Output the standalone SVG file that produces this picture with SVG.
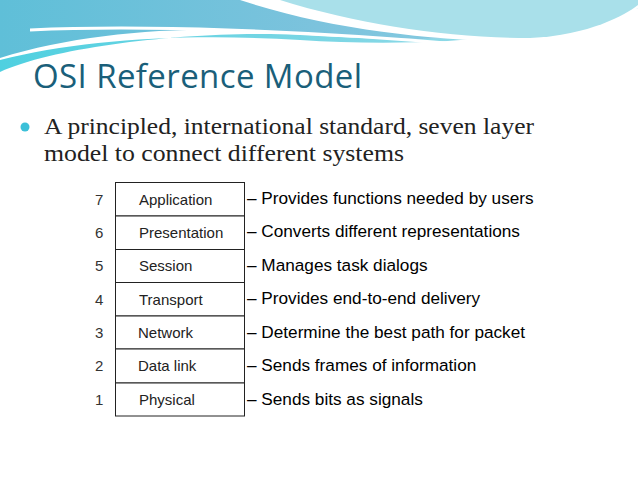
<svg xmlns="http://www.w3.org/2000/svg" width="638" height="478" viewBox="0 0 638 478">
<defs>
<linearGradient id="g1" x1="0" y1="0" x2="1" y2="0"><stop offset="0" stop-color="#5fbfd8"/><stop offset="0.5" stop-color="#7cc3dd"/><stop offset="1" stop-color="#8fd3e4"/></linearGradient>
<linearGradient id="g2" x1="0" y1="0" x2="1" y2="0"><stop offset="0" stop-color="#4fd0e0"/><stop offset="1" stop-color="#a6dce9"/></linearGradient>
</defs>
<style>
.num{font-family:"Liberation Sans",Arial,sans-serif;font-size:15px;fill:#333}
.lay{font-family:"Liberation Sans",Arial,sans-serif;font-size:15px;fill:#222}
.desc{font-family:"Liberation Sans",Arial,sans-serif;font-size:17.2px;fill:#000}
.cell{fill:#fff;stroke:#222;stroke-width:1}
</style>
<rect width="638" height="478" fill="#fff"/>
<g id="header">
<path d="M0 0 H638 V8 C560 40 420 45 300 33 C200 25 90 30 0 58 Z" fill="url(#g1)"/>
<path d="M0 72 C60 45 200 30 300 35 C400 40 500 48 638 5 V0 C560 40 420 48 300 40 C180 33 80 40 0 60 Z" fill="url(#g2)"/>
<path d="M240 0 C330 30 430 40 520 42 C580 40 620 20 638 8 V0 Z" fill="#fff"/>
<path d="M280 0 C360 25 450 38 530 38 C590 35 625 15 638 5 V0 Z" fill="#a9e0ea"/>
<path d="M30 30 C140 25 300 30 470 45" fill="none" stroke="#ffffff" stroke-width="3"/>
</g>
<text x="33" y="88" font-family="Open Sans,Liberation Sans,sans-serif" font-size="33" fill="#1a5f7a" textLength="329">OSI Reference Model</text>
<g id="bullet">
<circle cx="25" cy="127" r="4.5" fill="#3cc0d8"/>
<text x="44" y="134" font-family="Liberation Serif,serif" font-size="23" fill="#222" textLength="490" lengthAdjust="spacingAndGlyphs">A principled, international standard, seven layer</text>
<text x="44" y="161" font-family="Liberation Serif,serif" font-size="23" fill="#222" textLength="360" lengthAdjust="spacingAndGlyphs">model to connect different systems</text>
</g>
<g id="layers">
<rect class="cell" x="115.5" y="182.5" width="129" height="33.5"/>
<rect class="cell" x="115.5" y="216" width="129" height="33.5"/>
<rect class="cell" x="115.5" y="249.5" width="129" height="33"/>
<rect class="cell" x="115.5" y="282.5" width="129" height="33.5"/>
<rect class="cell" x="115.5" y="316" width="129" height="33"/>
<rect class="cell" x="115.5" y="349" width="129" height="34"/>
<rect class="cell" x="115.5" y="383" width="129" height="33"/>
<text class="num" x="95" y="205">7</text><text class="lay" x="139" y="205">Application</text>
<text class="num" x="95" y="238">6</text><text class="lay" x="139" y="238">Presentation</text>
<text class="num" x="95" y="271">5</text><text class="lay" x="139" y="271">Session</text>
<text class="num" x="95" y="305">4</text><text class="lay" x="139" y="305">Transport</text>
<text class="num" x="95" y="338">3</text><text class="lay" x="138" y="338">Network</text>
<text class="num" x="95" y="371">2</text><text class="lay" x="138" y="371">Data link</text>
<text class="num" x="95" y="405">1</text><text class="lay" x="139" y="405">Physical</text>
</g>
<g id="descriptions">
<text class="desc" x="247" y="204">– Provides functions needed by users</text>
<text class="desc" x="247" y="237">– Converts different representations</text>
<text class="desc" x="247" y="271">– Manages task dialogs</text>
<text class="desc" x="247" y="304">– Provides end-to-end delivery</text>
<text class="desc" x="247" y="338">– Determine the best path for packet</text>
<text class="desc" x="247" y="371">– Sends frames of information</text>
<text class="desc" x="247" y="405">– Sends bits as signals</text>
</g>
</svg>
